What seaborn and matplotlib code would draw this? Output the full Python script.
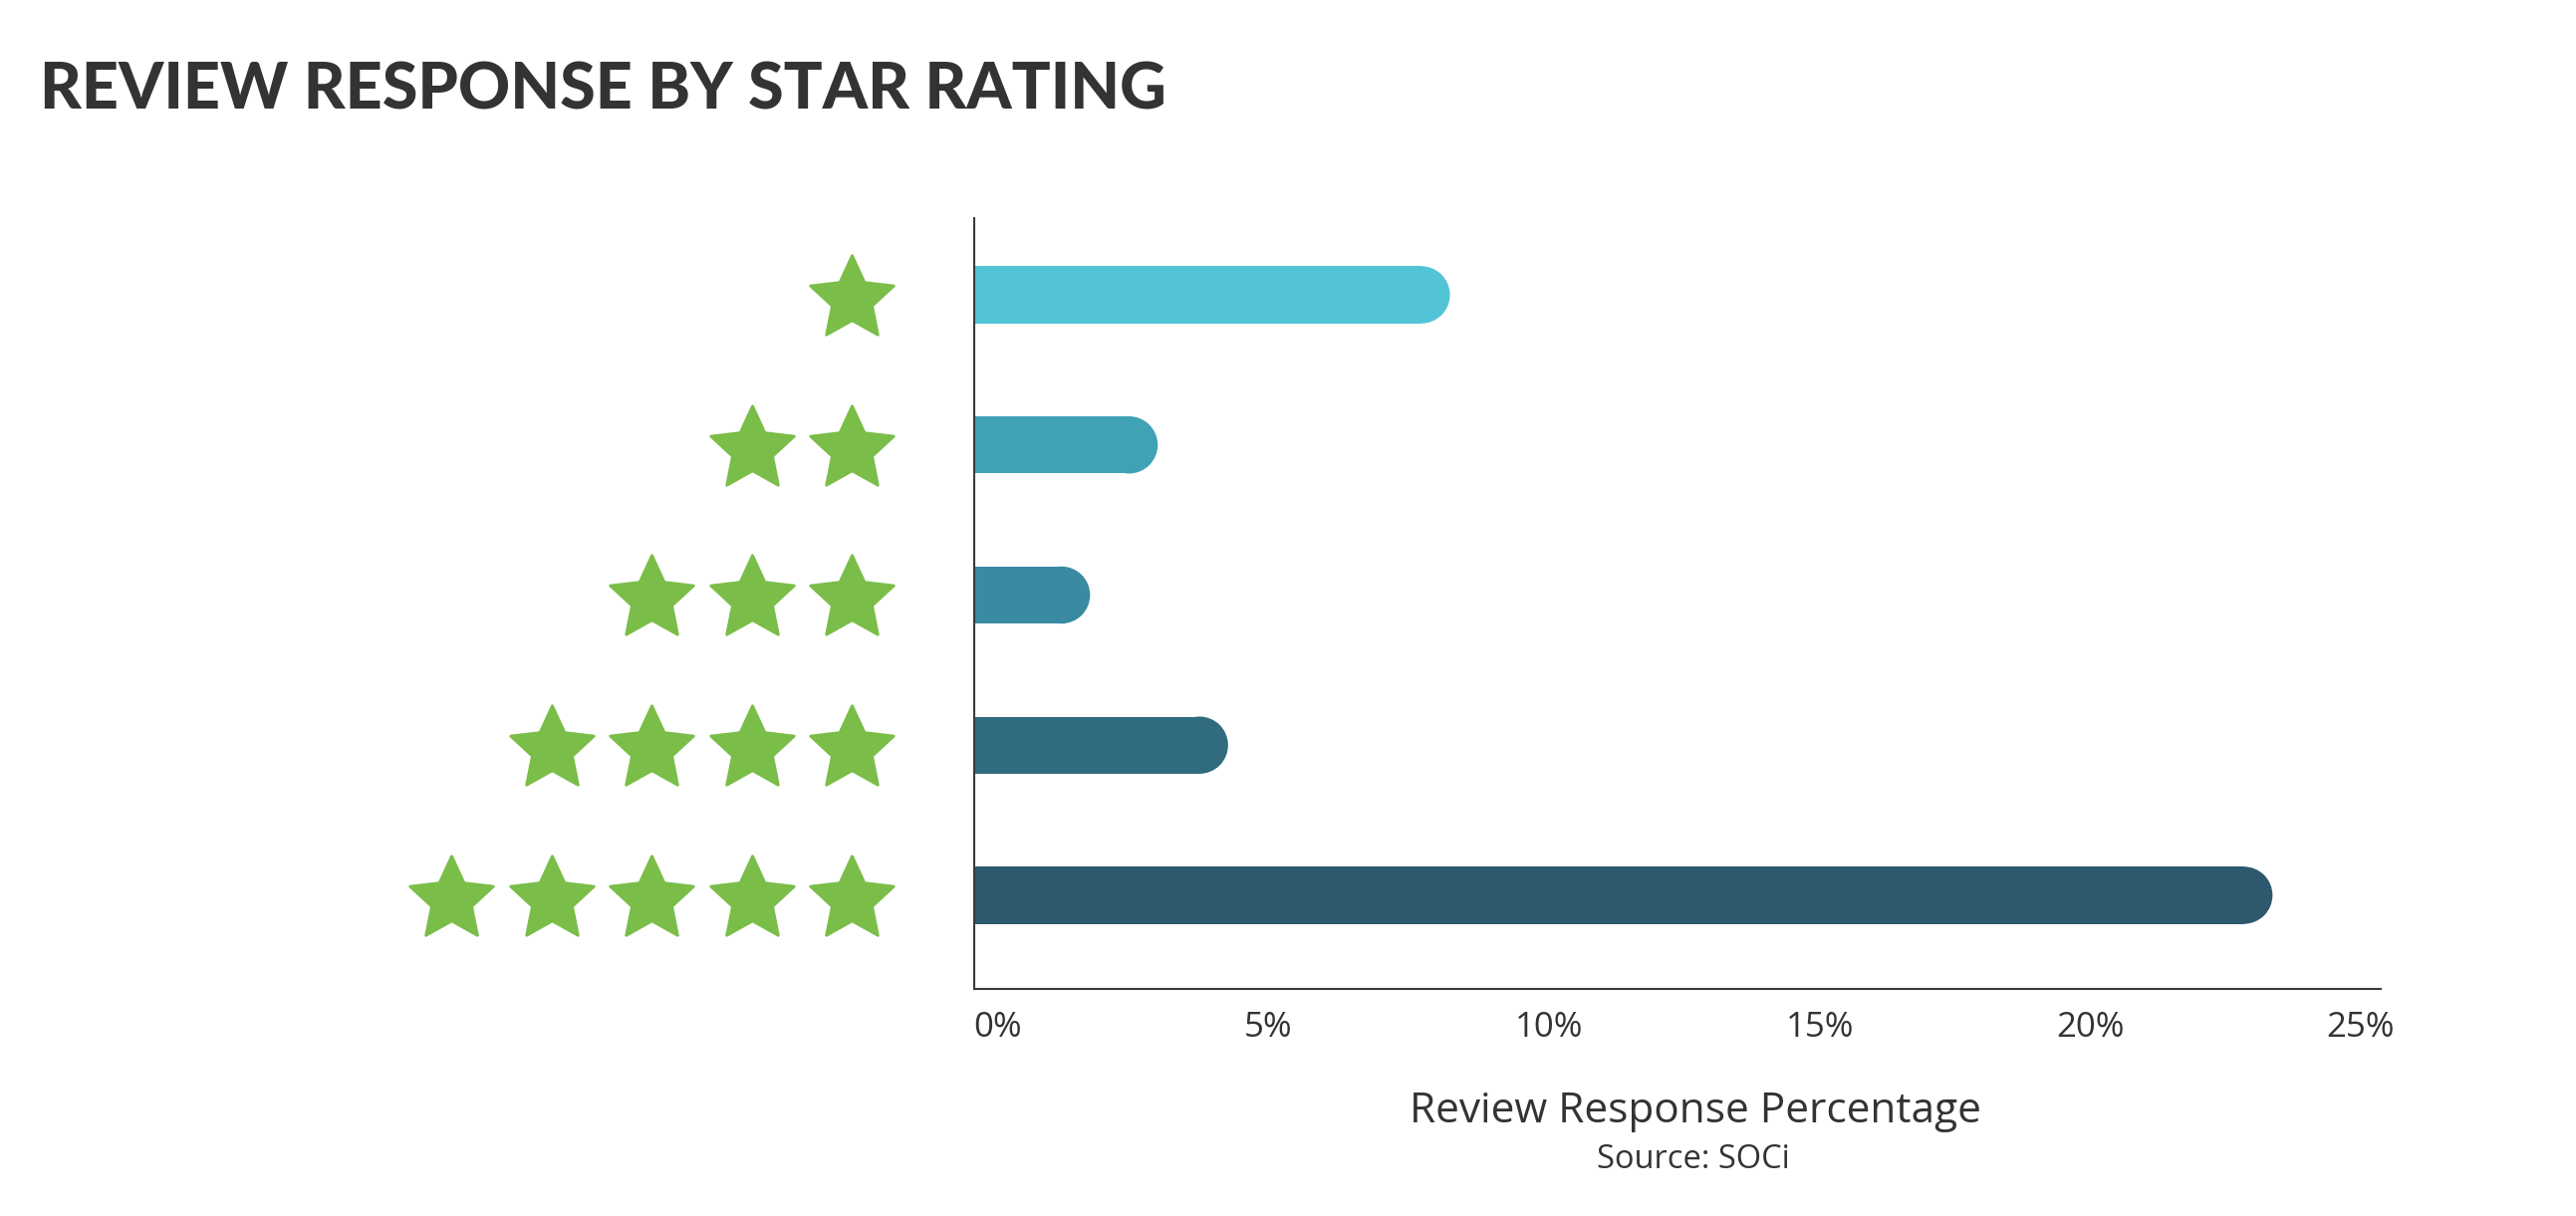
import numpy as np
import pandas as pd
import matplotlib
matplotlib.use("Agg")
import matplotlib.pyplot as plt
from matplotlib.patches import Ellipse
from matplotlib.path import Path
import seaborn as sns

# ---------------- data ----------------
ratings = ["1 Star", "2 Stars", "3 Stars", "4 Stars", "5 Stars"]
star_counts = [1, 2, 3, 4, 5]
response_pct = [8.8, 3.4, 2.15, 4.7, 24.0]
bar_colors = ["#52C4D6", "#3FA2B5", "#3A8BA1", "#316B7E", "#2D586D"]
x_ticks = [0, 5, 10, 15, 20, 25]
x_tick_labels = ["0%", "5%", "10%", "15%", "20%", "25%"]
title = "REVIEW RESPONSE BY STAR RATING"
x_label = "Review Response Percentage"
source = "Source: SOCi"

STAR_GREEN = "#7ABD48"
TEXT = "#333333"

df = pd.DataFrame({"rating": ratings, "pct": response_pct})
star_rows = []
for i, (r, n) in enumerate(zip(ratings, star_counts)):
    for j in range(n):
        star_rows.append({"row": i, "pos": -j})
star_df = pd.DataFrame(star_rows)

# ---------------- figure ----------------
sns.set_theme(style="white")
plt.rcParams["font.family"] = ["Open Sans", "DejaVu Sans"]

W, H, DPI = 2586, 1221, 100
fig = plt.figure(figsize=(W / DPI, H / DPI), dpi=DPI)
fig.patch.set_facecolor("white")

ax_l, ax_r = 977.5, 2390
ax_t, ax_b = 219, 992.7
ax = fig.add_axes([ax_l / W, 1 - ax_b / H, (ax_r - ax_l) / W, (ax_b - ax_t) / H])

bar_h = 0.381
sns.barplot(data=df, x="pct", y="rating", hue="rating", palette=bar_colors,
            width=bar_h, legend=False, orient="h", ax=ax, saturation=1)

ax.set_xlim(0, 26)
ax.set_ylim(4.622, -0.511)
ax.set_xticks(x_ticks)
ax.set_xticklabels(x_tick_labels)
for lab in ax.get_xticklabels():
    lab.set_ha("left")
ax.tick_params(axis="x", length=0, pad=16, labelsize=25, labelcolor=TEXT)
ax.set_yticks([])
ax.set_xlabel("")
ax.set_ylabel("")
for s in ["top", "right"]:
    ax.spines[s].set_visible(False)
for s in ["left", "bottom"]:
    ax.spines[s].set_visible(True)
    ax.spines[s].set_color("#3a3a3a")
    ax.spines[s].set_linewidth(1.5)

# rounded bar ends
fig.canvas.draw()
p0 = ax.transData.transform((0, 0))
p1 = ax.transData.transform((1, 1))
px_per_x = p1[0] - p0[0]
px_per_y = abs(p1[1] - p0[1])
for patch in list(ax.patches):
    x0, y0 = patch.get_x(), patch.get_y()
    w, h = patch.get_width(), patch.get_height()
    r_px = h * px_per_y / 2
    r_x = r_px / px_per_x
    patch.set_width(w - r_x)
    patch.set_linewidth(0)
    ax.add_patch(Ellipse((x0 + w - r_x, y0 + h / 2), 2 * r_x, h,
                         facecolor=patch.get_facecolor(), linewidth=0))

# stars
st_l = 300
ax_s = fig.add_axes([st_l / W, 1 - ax_b / H, (ax_l - st_l) / W, (ax_b - ax_t) / H])
ax_s.patch.set_alpha(0)
inner = 0.48
shift = (1 - 0.809) / 2
verts = []
for k in range(10):
    ang = np.pi / 2 + k * np.pi / 5
    rr = 1.0 if k % 2 == 0 else inner
    verts.append((rr * np.cos(ang), rr * np.sin(ang) - shift))
verts.append(verts[0])
codes = [Path.MOVETO] + [Path.LINETO] * 9 + [Path.CLOSEPOLY]
star_path = Path(verts, codes)
R_px = 44
ms_pt = 2 * 0.951 * R_px * 72 / DPI
sns.scatterplot(data=star_df, x="pos", y="row", marker=star_path, s=ms_pt ** 2,
                color=STAR_GREEN, edgecolor=STAR_GREEN, linewidth=2,
                legend=False, ax=ax_s, clip_on=False)
for c in ax_s.collections:
    c.set_joinstyle("round")
ax_s.set_xlim(-5.528, 1.217)
ax_s.set_ylim(4.622, -0.511)
ax_s.axis("off")

# texts
fig.text(40 / W, 1 - 110 / H, title, ha="left", va="baseline",
         fontsize=46.5, fontweight="black", color=TEXT,
         family=["Lato", "DejaVu Sans"])
fig.text(1702 / W, 1 - 1126.7 / H, x_label, ha="center", va="baseline",
         fontsize=30.5, color=TEXT)
fig.text(1700 / W, 1 - 1173 / H, source, ha="center", va="baseline",
         fontsize=23.5, color=TEXT)

fig.savefig("out.png", dpi=DPI, facecolor="white")
